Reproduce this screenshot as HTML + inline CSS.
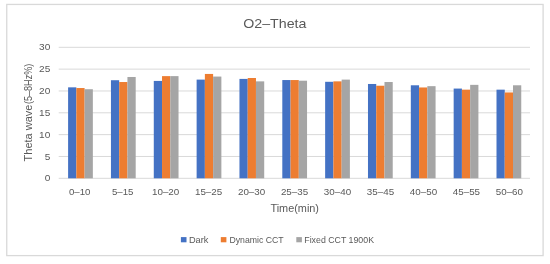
<!DOCTYPE html>
<html lang="en"><head><meta charset="utf-8"><title>O2–Theta</title>
<style>html,body{margin:0;padding:0;background:#fff}body{width:550px;height:264px;overflow:hidden}svg{display:block}text{font-family:"Liberation Sans",sans-serif;fill:#595959}</style></head><body>
<svg width="550" height="264" viewBox="0 0 550 264">
<rect x="0" y="0" width="550" height="264" fill="#fff"/>
<rect x="6.75" y="4.45" width="536.35" height="251.15" fill="#fff" stroke="#D9D9D9" stroke-width="1.3"/>
<line x1="58.7" y1="178.30" x2="530.0" y2="178.30" stroke="#D9D9D9" stroke-width="1"/>
<line x1="58.7" y1="156.47" x2="530.0" y2="156.47" stroke="#D9D9D9" stroke-width="1"/>
<line x1="58.7" y1="134.63" x2="530.0" y2="134.63" stroke="#D9D9D9" stroke-width="1"/>
<line x1="58.7" y1="112.80" x2="530.0" y2="112.80" stroke="#D9D9D9" stroke-width="1"/>
<line x1="58.7" y1="90.97" x2="530.0" y2="90.97" stroke="#D9D9D9" stroke-width="1"/>
<line x1="58.7" y1="69.13" x2="530.0" y2="69.13" stroke="#D9D9D9" stroke-width="1"/>
<line x1="58.7" y1="47.30" x2="530.0" y2="47.30" stroke="#D9D9D9" stroke-width="1"/>
<rect x="68.10" y="87.34" width="8.25" height="90.96" fill="#4472C4"/>
<rect x="76.35" y="88.04" width="8.25" height="90.26" fill="#ED7D31"/>
<rect x="84.60" y="89.22" width="8.25" height="89.08" fill="#A5A5A5"/>
<rect x="110.94" y="80.22" width="8.25" height="98.08" fill="#4472C4"/>
<rect x="119.19" y="82.02" width="8.25" height="96.29" fill="#ED7D31"/>
<rect x="127.44" y="76.99" width="8.25" height="101.31" fill="#A5A5A5"/>
<rect x="153.78" y="80.92" width="8.25" height="97.38" fill="#4472C4"/>
<rect x="162.03" y="76.12" width="8.25" height="102.18" fill="#ED7D31"/>
<rect x="170.28" y="76.12" width="8.25" height="102.18" fill="#A5A5A5"/>
<rect x="196.62" y="79.61" width="8.25" height="98.69" fill="#4472C4"/>
<rect x="204.87" y="73.94" width="8.25" height="104.36" fill="#ED7D31"/>
<rect x="213.12" y="76.56" width="8.25" height="101.74" fill="#A5A5A5"/>
<rect x="239.46" y="78.91" width="8.25" height="99.39" fill="#4472C4"/>
<rect x="247.71" y="78.00" width="8.25" height="100.30" fill="#ED7D31"/>
<rect x="255.96" y="81.36" width="8.25" height="96.94" fill="#A5A5A5"/>
<rect x="282.30" y="80.05" width="8.25" height="98.25" fill="#4472C4"/>
<rect x="290.55" y="80.05" width="8.25" height="98.25" fill="#ED7D31"/>
<rect x="298.80" y="80.70" width="8.25" height="97.60" fill="#A5A5A5"/>
<rect x="325.14" y="81.80" width="8.25" height="96.50" fill="#4472C4"/>
<rect x="333.39" y="81.36" width="8.25" height="96.94" fill="#ED7D31"/>
<rect x="341.64" y="79.61" width="8.25" height="98.69" fill="#A5A5A5"/>
<rect x="367.98" y="83.98" width="8.25" height="94.32" fill="#4472C4"/>
<rect x="376.23" y="85.73" width="8.25" height="92.57" fill="#ED7D31"/>
<rect x="384.48" y="82.02" width="8.25" height="96.29" fill="#A5A5A5"/>
<rect x="410.82" y="85.29" width="8.25" height="93.01" fill="#4472C4"/>
<rect x="419.07" y="87.47" width="8.25" height="90.83" fill="#ED7D31"/>
<rect x="427.32" y="86.16" width="8.25" height="92.14" fill="#A5A5A5"/>
<rect x="453.66" y="88.57" width="8.25" height="89.73" fill="#4472C4"/>
<rect x="461.91" y="89.66" width="8.25" height="88.64" fill="#ED7D31"/>
<rect x="470.16" y="84.85" width="8.25" height="93.45" fill="#A5A5A5"/>
<rect x="496.50" y="89.66" width="8.25" height="88.64" fill="#4472C4"/>
<rect x="504.75" y="92.45" width="8.25" height="85.85" fill="#ED7D31"/>
<rect x="513.00" y="85.29" width="8.25" height="93.01" fill="#A5A5A5"/>
<text x="44.70" y="181.45" font-size="9.9" textLength="5.6" lengthAdjust="spacingAndGlyphs">0</text>
<text x="44.70" y="159.62" font-size="9.9" textLength="5.6" lengthAdjust="spacingAndGlyphs">5</text>
<text x="39.10" y="137.78" font-size="9.9" textLength="11.2" lengthAdjust="spacingAndGlyphs">10</text>
<text x="39.10" y="115.95" font-size="9.9" textLength="11.2" lengthAdjust="spacingAndGlyphs">15</text>
<text x="39.10" y="94.12" font-size="9.9" textLength="11.2" lengthAdjust="spacingAndGlyphs">20</text>
<text x="39.10" y="72.28" font-size="9.9" textLength="11.2" lengthAdjust="spacingAndGlyphs">25</text>
<text x="39.10" y="50.45" font-size="9.9" textLength="11.2" lengthAdjust="spacingAndGlyphs">30</text>
<text x="68.95" y="195.3" font-size="9.9" textLength="21.5" lengthAdjust="spacingAndGlyphs">0–10</text>
<text x="111.92" y="195.3" font-size="9.9" textLength="21.5" lengthAdjust="spacingAndGlyphs">5–15</text>
<text x="151.99" y="195.3" font-size="9.9" textLength="27.3" lengthAdjust="spacingAndGlyphs">10–20</text>
<text x="194.96" y="195.3" font-size="9.9" textLength="27.3" lengthAdjust="spacingAndGlyphs">15–25</text>
<text x="237.93" y="195.3" font-size="9.9" textLength="27.3" lengthAdjust="spacingAndGlyphs">20–30</text>
<text x="280.90" y="195.3" font-size="9.9" textLength="27.3" lengthAdjust="spacingAndGlyphs">25–35</text>
<text x="323.87" y="195.3" font-size="9.9" textLength="27.3" lengthAdjust="spacingAndGlyphs">30–40</text>
<text x="366.84" y="195.3" font-size="9.9" textLength="27.3" lengthAdjust="spacingAndGlyphs">35–45</text>
<text x="409.81" y="195.3" font-size="9.9" textLength="27.3" lengthAdjust="spacingAndGlyphs">40–50</text>
<text x="452.78" y="195.3" font-size="9.9" textLength="27.3" lengthAdjust="spacingAndGlyphs">45–55</text>
<text x="495.75" y="195.3" font-size="9.9" textLength="27.3" lengthAdjust="spacingAndGlyphs">50–60</text>
<text x="243.2" y="28.3" font-size="13.1" textLength="63.2" lengthAdjust="spacingAndGlyphs">O2–Theta</text>
<text x="270.4" y="212.1" font-size="11" textLength="48.6" lengthAdjust="spacingAndGlyphs">Time(min)</text>
<text transform="translate(31.7,161.4) rotate(-90)" font-size="11"><tspan x="0" textLength="56.8" lengthAdjust="spacingAndGlyphs">Theta wave</tspan><tspan x="57.3" textLength="40.4" lengthAdjust="spacingAndGlyphs">(5–8Hz%)</tspan></text>
<rect x="180.9" y="237.1" width="5.6" height="5.2" fill="#4472C4"/>
<text x="188.9" y="242.55" font-size="9.8" textLength="19.5" lengthAdjust="spacingAndGlyphs">Dark</text>
<rect x="220.8" y="237.1" width="5.6" height="5.2" fill="#ED7D31"/>
<text x="229.4" y="242.55" font-size="9.8" textLength="54.2" lengthAdjust="spacingAndGlyphs">Dynamic CCT</text>
<rect x="296.3" y="237.1" width="5.6" height="5.2" fill="#A5A5A5"/>
<text x="304.3" y="242.55" font-size="9.8" textLength="69.7" lengthAdjust="spacingAndGlyphs">Fixed CCT 1900K</text>
</svg></body></html>
